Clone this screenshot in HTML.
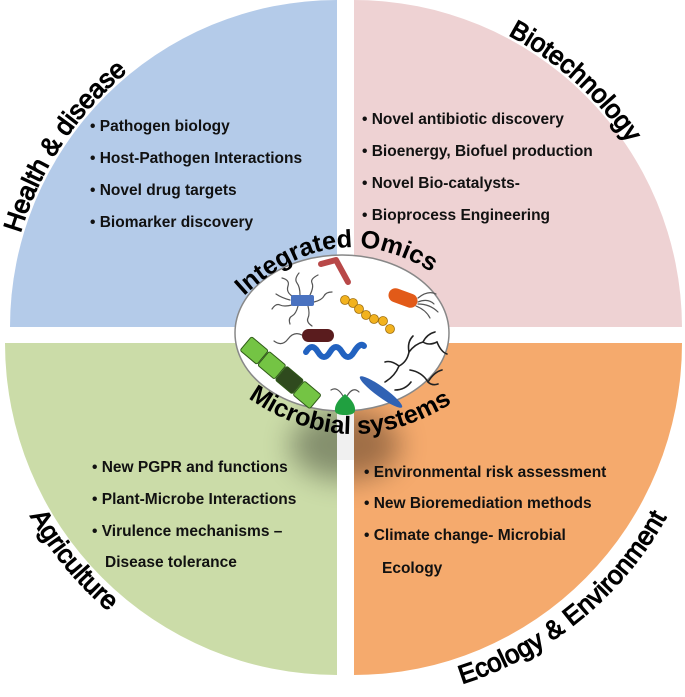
<!DOCTYPE html>
<html><head><meta charset="utf-8"><style>
html,body{margin:0;padding:0;background:#fff;}
svg{display:block;}
.l{font-family:"Liberation Sans",Arial,sans-serif;font-weight:bold;font-size:15.5px;fill:#111;}
.t{font-family:"Liberation Sans",Arial,sans-serif;font-size:26px;fill:#000;stroke:#000;stroke-width:1.1px;}
.c{font-family:"Liberation Sans",Arial,sans-serif;font-weight:bold;font-size:25px;fill:#000;}
</style></head><body>
<svg width="685" height="697" viewBox="0 0 685 697" xmlns="http://www.w3.org/2000/svg">
<defs>
<filter id="bl" x="-50%" y="-50%" width="200%" height="200%"><feGaussianBlur stdDeviation="14"/></filter>
<path id="pH" d="M20.4,233.3 A330,330 0 0 1 337,-3"/>
<path id="pB" d="M508,35 A330,330 0 0 1 684,327"/>
<path id="pA" d="M30,516 A352,352 0 0 0 337,695"/>
<path id="pE" d="M462,684 A358,358 0 0 0 712,343"/>
<path id="pI" d="M244,296 Q342,206 446,282"/>
<path id="pM" d="M248,398 Q352,470 460,398"/>
</defs>
<path d="M337,327 L10,327 A327,327 0 0 1 337,0 Z" fill="#b4cbe9"/>
<path d="M354,327 L354,0 A328,328 0 0 1 682,327 Z" fill="#eed2d3"/>
<path d="M337,343 L337,675 A332,332 0 0 1 5,343 Z" fill="#cbdca8"/>
<path d="M354,343 L682,343 A328,332 0 0 1 354,675 Z" fill="#f5aa6d"/>
<clipPath id="cq"><path d="M337,343 L337,675 A332,332 0 0 1 5,343 Z M354,343 L682,343 A328,332 0 0 1 354,675 Z"/></clipPath>
<g clip-path="url(#cq)"><ellipse cx="345" cy="445" rx="55" ry="35" fill="#000" opacity="0.35" filter="url(#bl)"/></g>
<rect x="337" y="400" width="17" height="60" fill="#e6e6e6" opacity="0.6"/>

<g class="l">
<text x="90" y="131">• Pathogen biology</text>
<text x="90" y="163">• Host-Pathogen Interactions</text>
<text x="90" y="195">• Novel drug targets</text>
<text x="90" y="227">• Biomarker discovery</text>
<text x="362" y="124">• Novel antibiotic discovery</text>
<text x="362" y="156">• Bioenergy, Biofuel production</text>
<text x="362" y="188">• Novel Bio-catalysts-</text>
<text x="362" y="220">• Bioprocess Engineering</text>
<text x="92" y="472">• New PGPR and  functions</text>
<text x="92" y="504">• Plant-Microbe Interactions</text>
<text x="92" y="536">• Virulence mechanisms –</text>
<text x="105" y="567">Disease tolerance</text>
<text x="364" y="477">• Environmental risk assessment</text>
<text x="364" y="508">• New  Bioremediation methods</text>
<text x="364" y="540">• Climate change- Microbial</text>
<text x="382" y="573">Ecology</text>
</g>

<text class="t"><textPath href="#pH">Health &amp; disease</textPath></text>
<text class="t"><textPath href="#pB">Biotechnology</textPath></text>
<text class="t"><textPath href="#pA">Agriculture</textPath></text>
<text class="t"><textPath href="#pE">Ecology &amp; Environment</textPath></text>

<ellipse cx="342" cy="333" rx="107" ry="78" fill="#fff" stroke="#888" stroke-width="1.5"/>
<g fill="none" stroke-linecap="round" stroke-linejoin="round">
<polyline points="321,264 336,260 348,282" stroke="#b84848" stroke-width="6"/>
<g stroke="#555" stroke-width="1.2">
<path d="M292,296 q-6,-4 -4,-10 t-6,-8"/><path d="M300,295 q0,-8 -3,-12 t2,-10"/>
<path d="M310,295 q4,-8 2,-12 t6,-8"/><path d="M314,302 q8,-2 10,-6 t8,-4"/>
<path d="M292,305 q-8,2 -12,0 t-8,4"/><path d="M298,306 q-2,8 -6,10 t-2,8"/>
<path d="M308,306 q2,8 0,12 t4,8"/><path d="M290,300 q-8,-2 -14,-6"/>
<path d="M418,302 q10,-4 16,2"/><path d="M418,298 q10,-8 18,-4"/><path d="M416,306 q10,4 14,12"/><path d="M418,304 q12,0 20,8"/>
<path d="M302,335 q-8,-4 -14,4 t-14,2"/>
<path d="M343,396 q-6,-10 -12,-6"/><path d="M347,396 q6,-10 12,-4"/>
</g>
<g stroke="#222" stroke-width="1.6">
<path d="M385,382 q10,-6 14,-16 q8,-4 10,-14 q6,-8 14,-10 q6,4 14,0"/>
<path d="M399,366 q-8,-6 -14,-4"/><path d="M409,352 q-2,-10 4,-16"/>
<path d="M423,342 q4,-8 12,-10"/><path d="M410,370 q12,2 18,12 q4,4 10,2"/>
<path d="M428,382 q6,-10 14,-12"/><path d="M395,390 q10,0 16,-8"/><path d="M437,342 q4,10 10,12"/>
</g>
<path d="M306,352 q6,-10 12,0 t12,0 t12,0 t12,0 t10,-6" stroke="#2262c0" stroke-width="6"/>
</g>
<rect x="291" y="295" width="23" height="11" rx="2" fill="#4a72c0"/>
<g fill="#f2b21e" stroke="#a07010" stroke-width="0.8">
<circle cx="345" cy="300" r="4.5"/><circle cx="353" cy="303" r="4.5"/><circle cx="359" cy="309" r="4.5"/><circle cx="366" cy="315" r="4.5"/><circle cx="374" cy="319" r="4.5"/><circle cx="383" cy="321" r="4.5"/><circle cx="390" cy="329" r="4.5"/>
</g>
<rect x="388" y="291" width="30" height="14" rx="7" fill="#e25a18" transform="rotate(20 403 298)"/>
<rect x="302" y="329" width="32" height="13" rx="6.5" fill="#5a1c1e"/>
<g transform="rotate(40 281 373)" stroke="#2f5a18" stroke-width="1">
<rect x="235" y="364" width="22" height="18" rx="2" fill="#74c444"/>
<rect x="258" y="364" width="22" height="18" rx="2" fill="#74c444"/>
<rect x="281" y="364" width="22" height="18" rx="2" fill="#2f4a1e"/>
<rect x="304" y="364" width="22" height="18" rx="2" fill="#74c444"/>
</g>
<ellipse cx="381" cy="392" rx="26" ry="5" fill="#3062b4" transform="rotate(36 381 392)"/>
<path d="M345,394 q-11,9 -10,17 q1,4 10,4 q9,0 10,-4 q1,-8 -10,-17z" fill="#20a040"/>

<text class="c"><textPath href="#pI" textLength="206" lengthAdjust="spacingAndGlyphs">Integrated Omics</textPath></text>
<text class="c"><textPath href="#pM" textLength="218" lengthAdjust="spacingAndGlyphs">Microbial systems</textPath></text>
</svg>
</body></html>
